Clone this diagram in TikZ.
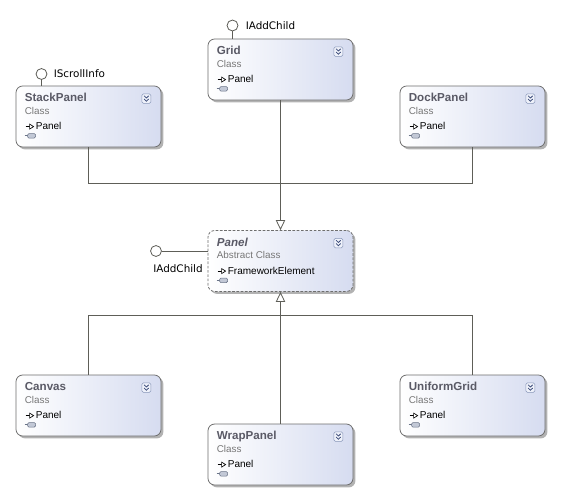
\documentclass[tikz,border=0pt]{standalone}
\usepackage{fontspec}
\setmainfont{Liberation Sans}
\newfontfamily\lolfont{DejaVu Sans}
\usetikzlibrary{arrows.meta,shadows,calc}
\definecolor{boxline}{HTML}{6E6E6E}
\definecolor{boxright}{HTML}{D6DCF0}
\definecolor{titlecol}{HTML}{5A5A66}
\definecolor{kindcol}{HTML}{777777}
\definecolor{btnline}{HTML}{8796B8}
\definecolor{btnfill}{HTML}{EEF1FA}
\definecolor{chev}{HTML}{3A4A78}
\definecolor{conn}{HTML}{5E5E58}
\definecolor{iconfill}{HTML}{C2C8D6}
\definecolor{iconline}{HTML}{6A7488}
\tikzset{
  x=0.75pt, y=-0.75pt,
  classbox/.style={draw=boxline, line width=0.6pt, rounded corners=5pt,
    minimum width=108.75pt, minimum height=45.75pt, inner sep=0pt,
    left color=white, right color=boxright,
    drop shadow={shadow xshift=1.8pt, shadow yshift=-1.8pt, opacity=0.3, fill=black}},
  abstractbox/.style={classbox, dashed, dash pattern=on 2pt off 1.2pt},
  titletext/.style={font=\bfseries\fontsize{8.7}{10}\selectfont, text=titlecol, inner sep=0pt, anchor=base west},
  kindtext/.style={font=\fontsize{7.4}{8}\selectfont, text=kindcol, inner sep=0pt, anchor=base west},
  basetext/.style={font=\fontsize{7.5}{8}\selectfont, text=black, inner sep=0pt, anchor=base west},
  btn/.style={draw=btnline, fill=btnfill, rounded corners=1.2pt, minimum width=6.8pt, minimum height=7.2pt, inner sep=0pt},
  conn/.style={draw=conn, line width=0.6pt},
  inh/.style={-{Triangle[open, length=7.5pt, width=7pt]}},
  lol/.style={circle, draw=conn, fill=white, line width=0.6pt, minimum size=8.2pt, inner sep=0pt},
  loltext/.style={font=\lolfont\fontsize{7.8}{9}\selectfont, inner sep=0pt},
}
% #1 extra style, #2 name, #3 centre, #4 title, #5 kind, #6 base
\newcommand\umlclass[6][classbox]{%
  \node[#1] (#2) at (#3) {};
  \node[titletext] (#2-t) at ($(#2.north west)+(9,16)$) {#4};
  \node[kindtext] (#2-k) at ($(#2.north west)+(9,28.5)$) {#5};
  \node[basetext] (#2-b) at ($(#2.north west)+(20,44)$) {#6};
  \draw[line width=0.6pt] ($(#2.north west)+(10,41)$) -- ($(#2.north west)+(14,41)$);
  \draw[line width=0.5pt, fill=white] ($(#2.north west)+(14,38.5)$) -- ($(#2.north west)+(18,41)$) -- ($(#2.north west)+(14,43.5)$) -- cycle;
  \draw[draw=iconline, line width=0.4pt] ($(#2.north west)+(9,50)$) -- ($(#2.north west)+(12,50)$);
  \draw[draw=iconline, fill=iconfill, line width=0.4pt, rounded corners=1pt] ($(#2.north west)+(12,48)$) rectangle ($(#2.north west)+(20,52.5)$);
  \node[btn] (#2-btn) at ($(#2.north east)+(-15,13)$) {};
  \draw[chev, line width=0.6pt] ($(#2-btn.center)+(-2.3,-2.8)$) -- ($(#2-btn.center)+(0,-0.6)$) -- ($(#2-btn.center)+(2.3,-2.8)$);
  \draw[chev, line width=0.6pt] ($(#2-btn.center)+(-2.3,0.4)$) -- ($(#2-btn.center)+(0,2.6)$) -- ($(#2-btn.center)+(2.3,0.4)$);
}
\begin{document}
\begin{tikzpicture}
\useasboundingbox[fill=white] (0,0) rectangle (570,492);
% classes
\umlclass{stack}{88.5,116.5}{StackPanel}{Class}{Panel}
\umlclass{grid}{280.5,69.5}{Grid}{Class}{Panel}
\umlclass{dock}{472.5,116.5}{DockPanel}{Class}{Panel}
\umlclass[abstractbox]{panel}{280.5,261}{\textit{Panel}}{Abstract Class}{FrameworkElement}
\umlclass{canvas}{88.5,405.5}{Canvas}{Class}{Panel}
\umlclass{wrap}{280.5,454.5}{WrapPanel}{Class}{Panel}
\umlclass{uniform}{472.5,405.5}{UniformGrid}{Class}{Panel}
% connectors (upper)
\coordinate (jtop) at (280.5,183.3);
\draw[conn] (stack.south) |- (jtop) -| (dock.south);
\draw[conn, inh] (grid.south) -- (panel.north);
% connectors (lower)
\coordinate (jbot) at (280.5,315.5);
\draw[conn] (canvas.north) |- (jbot) -| (uniform.north);
\draw[conn, inh] (wrap.north) -- (panel.south);
% lollipops
\node[lol] (lgrid) at (232.5,25.5) {};
\draw[conn] (lgrid.south) -- (lgrid.south |- grid.north);
\node[loltext, anchor=base west] (lgridt) at (245.5,29.5) {IAddChild};
\node[lol] (lstack) at (41.5,74) {};
\draw[conn] (lstack.south) -- (lstack.south |- stack.north);
\node[loltext, anchor=base west] (lstackt) at (53.5,78) {IScrollInfo};
\node[lol] (lpanel) at (156,251) {};
\draw[conn] (lpanel.east) -- (lpanel.east -| panel.west);
\node[loltext, anchor=base] (lpanelt) at (178,272) {IAddChild};
\end{tikzpicture}
\end{document}
